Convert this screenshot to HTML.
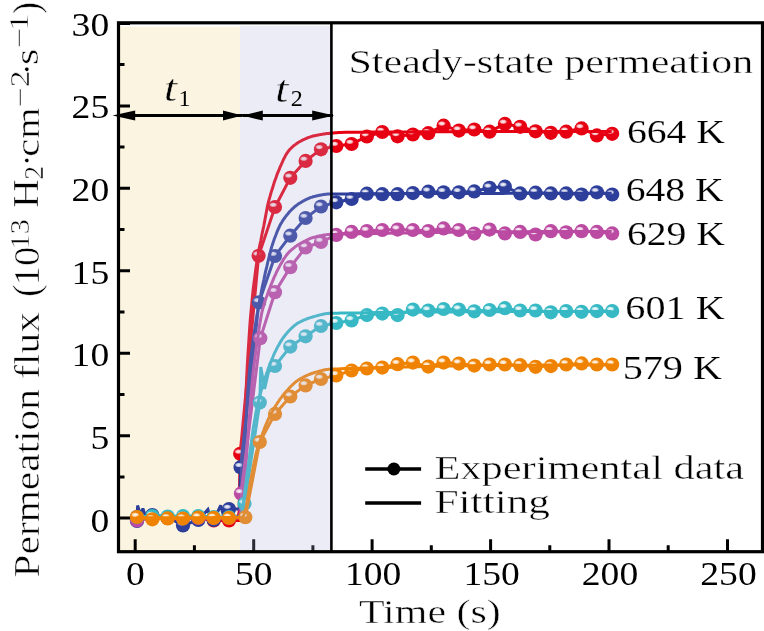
<!DOCTYPE html><html><head><meta charset="utf-8"><title>Permeation flux</title><style>html,body{margin:0;padding:0;background:#fff;width:764px;height:631px;overflow:hidden}svg{display:block;will-change:transform}text{font-family:"Liberation Serif",serif;fill:#000;stroke:#fff;stroke-width:0.45px}</style></head><body>
<svg width="764" height="631" viewBox="0 0 764 631">
<defs>
<radialGradient id="hl" cx="0.5" cy="0.5" r="0.5"><stop offset="0" stop-color="#fff" stop-opacity="0.95"/><stop offset="0.55" stop-color="#fff" stop-opacity="0.75"/><stop offset="1" stop-color="#fff" stop-opacity="0"/></radialGradient>
<g id="mkr"><circle r="7.1" fill="#e60012"/><ellipse cx="-1.8" cy="-2.2" rx="4.2" ry="2.6" fill="url(#hl)"/></g>
<g id="mkb"><circle r="7.1" fill="#2d3f9b"/><ellipse cx="-1.8" cy="-2.2" rx="4.2" ry="2.6" fill="url(#hl)"/></g>
<g id="mkm"><circle r="7.1" fill="#bb4aa2"/><ellipse cx="-1.8" cy="-2.2" rx="4.2" ry="2.6" fill="url(#hl)"/></g>
<g id="mkc"><circle r="7.1" fill="#36b9c4"/><ellipse cx="-1.8" cy="-2.2" rx="4.2" ry="2.6" fill="url(#hl)"/></g>
<g id="mko"><circle r="7.1" fill="#ef8200"/><ellipse cx="-1.8" cy="-2.2" rx="4.2" ry="2.6" fill="url(#hl)"/></g>
</defs>
<rect width="764" height="631" fill="#fff"/>
<rect x="118.5" y="26.6" width="121.5" height="525.1" fill="#fbf4e1"/>
<path d="M118.5,518.1h11.5 M118.5,435.7h11.5 M118.5,353.2h11.5 M118.5,270.8h11.5 M118.5,188.3h11.5 M118.5,105.9h11.5 M118.5,23.4h11.5 M118.5,476.9h6 M118.5,394.4h6 M118.5,312.0h6 M118.5,229.5h6 M118.5,147.1h6 M118.5,64.6h6 M135.2,551.7v-12.5 M253.7,551.7v-12.5 M372.1,551.7v-12.5 M490.6,551.7v-12.5 M609.0,551.7v-12.5 M727.5,551.7v-12.5 M194.4,551.7v-6.5 M312.9,551.7v-6.5 M431.3,551.7v-6.5 M549.8,551.7v-6.5 M668.2,551.7v-6.5" stroke="#000" stroke-width="3" fill="none"/>
<path d="M137.0,517.0 152.3,517.0 167.7,518.0 183.0,518.0 198.3,518.0 213.7,520.5 229.0,520.5 239.0,520.5 240.2,453.8 258.6,255.8 275.0,207.0 290.3,177.8 305.6,160.9 321.0,149.3 336.3,146.0 351.6,144.0 366.9,136.5 382.3,132.0 397.6,136.3 412.9,134.5 428.3,133.2 443.6,125.7 458.9,130.6 474.3,129.5 489.6,131.7 504.9,123.9 520.2,126.8 535.6,131.3 550.9,132.8 566.2,131.7 581.6,128.4 596.9,135.4 612.2,133.8" stroke="#e60012" stroke-width="3" fill="none" stroke-linejoin="miter" stroke-miterlimit="2.2"/>
<use href="#mkr" x="137.0" y="517.0"/><use href="#mkr" x="152.3" y="517.0"/><use href="#mkr" x="167.7" y="518.0"/><use href="#mkr" x="183.0" y="518.0"/><use href="#mkr" x="198.3" y="518.0"/><use href="#mkr" x="213.7" y="520.5"/><use href="#mkr" x="229.0" y="520.5"/><use href="#mkr" x="240.2" y="453.8"/><use href="#mkr" x="258.6" y="255.8"/><use href="#mkr" x="275.0" y="207.0"/><use href="#mkr" x="290.3" y="177.8"/><use href="#mkr" x="305.6" y="160.9"/><use href="#mkr" x="321.0" y="149.3"/><use href="#mkr" x="336.3" y="146.0"/><use href="#mkr" x="351.6" y="144.0"/><use href="#mkr" x="366.9" y="136.5"/><use href="#mkr" x="382.3" y="132.0"/><use href="#mkr" x="397.6" y="136.3"/><use href="#mkr" x="412.9" y="134.5"/><use href="#mkr" x="428.3" y="133.2"/><use href="#mkr" x="443.6" y="125.7"/><use href="#mkr" x="458.9" y="130.6"/><use href="#mkr" x="474.3" y="129.5"/><use href="#mkr" x="489.6" y="131.7"/><use href="#mkr" x="504.9" y="123.9"/><use href="#mkr" x="520.2" y="126.8"/><use href="#mkr" x="535.6" y="131.3"/><use href="#mkr" x="550.9" y="132.8"/><use href="#mkr" x="566.2" y="131.7"/><use href="#mkr" x="581.6" y="128.4"/><use href="#mkr" x="596.9" y="135.4"/><use href="#mkr" x="612.2" y="133.8"/>
<path d="M136.5,517.8 142.5,517.8 148.5,517.8 154.5,517.8 160.5,517.8 166.5,517.8 172.5,517.8 178.5,517.8 184.5,517.8 190.5,517.7 196.5,517.7 202.5,517.7 208.5,517.6 214.5,517.6 220.5,517.6 226.5,517.5 232.5,517.4 236.0,517.4 236.8,517.2 237.5,516.5 238.2,515.4 239.0,514.0 239.8,510.6 240.5,504.7 241.2,497.4 242.0,487.3 242.8,474.6 243.5,459.2 244.2,439.1 245.0,417.5 245.8,397.6 246.5,381.7 247.2,367.1 248.0,353.7 248.8,341.6 249.5,330.6 250.2,320.7 251.0,311.6 251.8,303.4 252.5,296.0 253.2,289.2 254.0,282.9 254.8,276.9 255.5,271.3 256.2,266.1 257.0,261.1 257.8,256.5 258.5,252.2 259.2,248.2 260.0,244.4 260.8,240.7 261.5,237.0 262.2,233.2 263.0,229.5 263.8,225.8 264.5,222.1 265.2,218.2 266.0,214.0 266.8,209.8 267.5,206.0 268.2,202.8 269.0,199.9 269.8,197.2 270.5,194.6 271.2,192.1 272.0,189.7 272.8,187.3 273.5,184.9 274.2,182.6 275.0,180.3 275.8,178.2 276.5,176.1 277.2,174.1 278.0,172.2 278.8,170.3 279.5,168.6 280.2,166.8 281.0,165.1 281.8,163.4 282.5,161.7 283.2,160.1 284.0,158.5 284.8,157.0 285.5,155.6 286.2,154.3 287.0,153.1 287.8,152.0 288.5,151.0 289.2,150.1 290.0,149.3 290.8,148.5 291.5,147.8 292.2,147.1 293.0,146.4 293.8,145.8 294.5,145.1 295.2,144.6 296.0,144.0 296.8,143.5 297.5,143.0 298.2,142.5 299.0,142.0 299.8,141.6 300.5,141.2 301.2,140.8 302.0,140.4 302.8,140.0 303.5,139.7 304.2,139.3 305.0,139.0 305.8,138.6 306.5,138.3 307.2,138.0 308.0,137.7 308.8,137.4 309.5,137.2 310.2,136.9 311.0,136.7 311.8,136.4 312.5,136.2 313.2,136.0 314.0,135.8 314.8,135.7 315.5,135.5 316.2,135.4 317.0,135.2 317.8,135.1 318.5,134.9 319.2,134.8 320.0,134.6 320.8,134.5 321.5,134.4 322.2,134.3 323.0,134.1 323.8,134.0 324.5,133.9 325.2,133.8 326.0,133.7 326.8,133.6 327.5,133.6 328.2,133.5 329.0,133.4 329.8,133.3 330.5,133.3 331.2,133.2 332.0,133.1 332.8,133.0 333.5,133.0 334.2,132.9 335.0,132.8 335.8,132.8 336.5,132.7 337.2,132.7 338.0,132.6 338.8,132.6 339.5,132.5 340.0,132.5 346.0,132.3 352.0,132.2 358.0,132.2 364.0,132.2 370.0,132.1 376.0,132.1 382.0,132.0 388.0,132.0 394.0,132.0 400.0,131.9 406.0,131.9 412.0,131.9 418.0,131.8 424.0,131.8 430.0,131.8 436.0,131.8 442.0,131.7 448.0,131.7 454.0,131.7 460.0,131.7 466.0,131.7 472.0,131.7 478.0,131.6 484.0,131.6 490.0,131.6 496.0,131.6 502.0,131.6 508.0,131.6 514.0,131.6 520.0,131.6 526.0,131.5 532.0,131.5 538.0,131.5 544.0,131.5 550.0,131.5 556.0,131.5 562.0,131.5 568.0,131.5 574.0,131.5 580.0,131.5 586.0,131.5 592.0,131.5 598.0,131.5 604.0,131.5 610.0,131.5 611.7,131.5" stroke="#e60012" stroke-width="3" fill="none" stroke-linejoin="round"/>
<path d="M137.0,521.0 137.6,505.5 140.3,514.5 142.9,508.5 145.5,516.5 152.3,515.0 167.7,517.0 183.0,525.5 198.3,520.0 207.9,509.5 210.5,517.5 213.7,520.0 220.7,505.5 223.5,515.5 229.0,509.0 239.4,509.0 240.6,467.2 259.0,302.4 275.0,256.0 290.3,235.7 305.6,218.0 321.0,206.5 336.3,202.3 351.6,199.0 366.9,193.7 382.3,194.2 397.6,194.2 412.9,193.1 428.3,191.7 443.6,192.3 458.9,192.3 474.3,191.4 489.6,187.8 504.9,186.7 520.2,193.4 535.6,192.7 550.9,193.4 566.2,193.4 581.6,194.5 596.9,192.3 612.2,194.5" stroke="#2d3f9b" stroke-width="3" fill="none" stroke-linejoin="miter" stroke-miterlimit="2.2"/>
<use href="#mkb" x="137.0" y="521.0"/><use href="#mkb" x="152.3" y="515.0"/><use href="#mkb" x="167.7" y="517.0"/><use href="#mkb" x="183.0" y="525.5"/><use href="#mkb" x="198.3" y="520.0"/><use href="#mkb" x="213.7" y="520.0"/><use href="#mkb" x="229.0" y="509.0"/><use href="#mkb" x="240.6" y="467.2"/><use href="#mkb" x="259.0" y="302.4"/><use href="#mkb" x="275.0" y="256.0"/><use href="#mkb" x="290.3" y="235.7"/><use href="#mkb" x="305.6" y="218.0"/><use href="#mkb" x="321.0" y="206.5"/><use href="#mkb" x="336.3" y="202.3"/><use href="#mkb" x="351.6" y="199.0"/><use href="#mkb" x="366.9" y="193.7"/><use href="#mkb" x="382.3" y="194.2"/><use href="#mkb" x="397.6" y="194.2"/><use href="#mkb" x="412.9" y="193.1"/><use href="#mkb" x="428.3" y="191.7"/><use href="#mkb" x="443.6" y="192.3"/><use href="#mkb" x="458.9" y="192.3"/><use href="#mkb" x="474.3" y="191.4"/><use href="#mkb" x="489.6" y="187.8"/><use href="#mkb" x="504.9" y="186.7"/><use href="#mkb" x="520.2" y="193.4"/><use href="#mkb" x="535.6" y="192.7"/><use href="#mkb" x="550.9" y="193.4"/><use href="#mkb" x="566.2" y="193.4"/><use href="#mkb" x="581.6" y="194.5"/><use href="#mkb" x="596.9" y="192.3"/><use href="#mkb" x="612.2" y="194.5"/>
<path d="M136.5,517.8 142.5,517.8 148.5,517.8 154.5,517.8 160.5,517.8 166.5,517.8 172.5,517.8 178.5,517.8 184.5,517.8 190.5,517.7 196.5,517.7 202.5,517.7 208.5,517.6 214.5,517.6 220.5,517.6 226.5,517.5 232.5,517.4 236.0,517.4 236.8,517.4 237.5,517.3 238.2,516.7 239.0,515.8 239.8,514.5 240.5,512.2 241.2,507.0 242.0,500.0 242.8,489.5 243.5,475.4 244.2,461.1 245.0,446.7 245.8,431.3 246.5,415.8 247.2,401.3 248.0,388.7 248.8,379.1 249.5,370.8 250.2,363.4 251.0,356.7 251.8,350.5 252.5,344.7 253.2,339.3 254.0,334.1 254.8,329.0 255.5,324.1 256.2,319.4 257.0,314.9 257.8,310.6 258.5,306.5 259.2,302.5 260.0,298.6 260.8,294.8 261.5,291.0 262.2,287.3 263.0,283.6 263.8,280.1 264.5,276.6 265.2,273.2 266.0,269.9 266.8,266.7 267.5,263.6 268.2,260.5 269.0,257.4 269.8,254.3 270.5,251.4 271.2,248.6 272.0,245.9 272.8,243.5 273.5,241.4 274.2,239.2 275.0,237.2 275.8,235.2 276.5,233.3 277.2,231.4 278.0,229.6 278.8,228.0 279.5,226.4 280.2,224.9 281.0,223.5 281.8,222.2 282.5,221.0 283.2,219.9 284.0,218.8 284.8,217.8 285.5,216.7 286.2,215.8 287.0,214.8 287.8,213.9 288.5,213.0 289.2,212.1 290.0,211.3 290.8,210.5 291.5,209.7 292.2,209.0 293.0,208.3 293.8,207.6 294.5,206.9 295.2,206.3 296.0,205.7 296.8,205.2 297.5,204.6 298.2,204.1 299.0,203.6 299.8,203.1 300.5,202.7 301.2,202.2 302.0,201.7 302.8,201.3 303.5,200.9 304.2,200.5 305.0,200.1 305.8,199.7 306.5,199.3 307.2,199.0 308.0,198.6 308.8,198.3 309.5,198.0 310.2,197.7 311.0,197.4 311.8,197.2 312.5,197.0 313.2,196.7 314.0,196.5 314.8,196.4 315.5,196.2 316.2,196.0 317.0,195.8 317.8,195.7 318.5,195.5 319.2,195.3 320.0,195.2 320.8,195.0 321.5,194.9 322.2,194.8 323.0,194.6 323.8,194.5 324.5,194.4 325.2,194.3 326.0,194.2 326.8,194.2 327.5,194.1 328.2,194.1 329.0,194.0 329.8,194.0 330.5,194.0 331.2,194.0 332.0,194.0 332.8,194.0 333.5,194.0 334.2,194.0 335.0,194.0 335.8,194.0 336.5,194.0 337.2,194.0 338.0,193.9 338.8,193.9 339.5,193.9 340.0,193.9 346.0,193.9 352.0,193.9 358.0,193.8 364.0,193.8 370.0,193.8 376.0,193.7 382.0,193.7 388.0,193.7 394.0,193.6 400.0,193.6 406.0,193.6 412.0,193.6 418.0,193.6 424.0,193.5 430.0,193.5 436.0,193.5 442.0,193.5 448.0,193.5 454.0,193.4 460.0,193.4 466.0,193.4 472.0,193.4 478.0,193.4 484.0,193.4 490.0,193.4 496.0,193.4 502.0,193.4 508.0,193.3 514.0,193.3 520.0,193.3 526.0,193.3 532.0,193.3 538.0,193.3 544.0,193.3 550.0,193.3 556.0,193.3 562.0,193.3 568.0,193.3 574.0,193.3 580.0,193.3 586.0,193.3 592.0,193.3 598.0,193.3 604.0,193.3 610.0,193.3 611.7,193.3" stroke="#2d3f9b" stroke-width="3" fill="none" stroke-linejoin="round"/>
<path d="M137.0,520.5 152.3,518.0 167.7,518.0 183.0,518.0 198.3,518.0 213.7,518.0 229.0,518.0 239.8,518.0 241.0,493.4 260.3,338.2 275.0,292.2 290.3,267.2 305.6,247.5 321.0,242.0 336.3,234.9 351.6,231.9 366.9,231.0 382.3,230.0 397.6,229.6 412.9,230.0 428.3,231.0 443.6,228.4 458.9,230.0 474.3,233.6 489.6,229.6 504.9,233.4 520.2,231.9 535.6,234.5 550.9,231.2 566.2,232.3 581.6,231.2 596.9,231.9 612.2,233.4" stroke="#bb4aa2" stroke-width="3" fill="none" stroke-linejoin="miter" stroke-miterlimit="2.2"/>
<use href="#mkm" x="137.0" y="520.5"/><use href="#mkm" x="152.3" y="518.0"/><use href="#mkm" x="167.7" y="518.0"/><use href="#mkm" x="183.0" y="518.0"/><use href="#mkm" x="198.3" y="518.0"/><use href="#mkm" x="213.7" y="518.0"/><use href="#mkm" x="229.0" y="518.0"/><use href="#mkm" x="241.0" y="493.4"/><use href="#mkm" x="260.3" y="338.2"/><use href="#mkm" x="275.0" y="292.2"/><use href="#mkm" x="290.3" y="267.2"/><use href="#mkm" x="305.6" y="247.5"/><use href="#mkm" x="321.0" y="242.0"/><use href="#mkm" x="336.3" y="234.9"/><use href="#mkm" x="351.6" y="231.9"/><use href="#mkm" x="366.9" y="231.0"/><use href="#mkm" x="382.3" y="230.0"/><use href="#mkm" x="397.6" y="229.6"/><use href="#mkm" x="412.9" y="230.0"/><use href="#mkm" x="428.3" y="231.0"/><use href="#mkm" x="443.6" y="228.4"/><use href="#mkm" x="458.9" y="230.0"/><use href="#mkm" x="474.3" y="233.6"/><use href="#mkm" x="489.6" y="229.6"/><use href="#mkm" x="504.9" y="233.4"/><use href="#mkm" x="520.2" y="231.9"/><use href="#mkm" x="535.6" y="234.5"/><use href="#mkm" x="550.9" y="231.2"/><use href="#mkm" x="566.2" y="232.3"/><use href="#mkm" x="581.6" y="231.2"/><use href="#mkm" x="596.9" y="231.9"/><use href="#mkm" x="612.2" y="233.4"/>
<path d="M136.5,517.8 142.5,517.8 148.5,517.8 154.5,517.8 160.5,517.8 166.5,517.8 172.5,517.8 178.5,517.8 184.5,517.8 190.5,517.7 196.5,517.7 202.5,517.7 208.5,517.7 214.5,517.6 220.5,517.6 226.5,517.5 232.5,517.5 236.0,517.4 236.8,517.4 237.5,517.4 238.2,517.4 239.0,517.0 239.8,516.1 240.5,515.0 241.2,513.3 242.0,508.8 242.8,502.2 243.5,495.0 244.2,486.9 245.0,477.3 245.8,467.2 246.5,457.4 247.2,447.4 248.0,436.9 248.8,426.2 249.5,415.6 250.2,405.4 251.0,395.7 251.8,386.8 252.5,379.0 253.2,372.0 254.0,365.5 254.8,359.4 255.5,353.6 256.2,348.1 257.0,342.8 257.8,337.7 258.5,332.6 259.2,327.6 260.0,322.7 260.8,318.3 261.5,314.3 262.2,311.0 263.0,308.0 263.8,305.3 264.5,302.8 265.2,300.5 266.0,298.3 266.8,296.2 267.5,294.2 268.2,292.1 269.0,290.1 269.8,288.2 270.5,286.2 271.2,284.3 272.0,282.5 272.8,280.6 273.5,278.9 274.2,277.1 275.0,275.5 275.8,273.8 276.5,272.2 277.2,270.7 278.0,269.2 278.8,267.8 279.5,266.4 280.2,265.1 281.0,263.7 281.8,262.4 282.5,261.2 283.2,259.9 284.0,258.7 284.8,257.6 285.5,256.5 286.2,255.5 287.0,254.5 287.8,253.6 288.5,252.7 289.2,251.9 290.0,251.2 290.8,250.5 291.5,249.8 292.2,249.2 293.0,248.6 293.8,248.0 294.5,247.4 295.2,246.8 296.0,246.3 296.8,245.8 297.5,245.3 298.2,244.8 299.0,244.3 299.8,243.9 300.5,243.4 301.2,243.0 302.0,242.6 302.8,242.2 303.5,241.8 304.2,241.4 305.0,241.0 305.8,240.6 306.5,240.2 307.2,239.8 308.0,239.5 308.8,239.1 309.5,238.8 310.2,238.5 311.0,238.2 311.8,237.9 312.5,237.7 313.2,237.5 314.0,237.3 314.8,237.1 315.5,236.9 316.2,236.7 317.0,236.5 317.8,236.3 318.5,236.2 319.2,236.0 320.0,235.8 320.8,235.7 321.5,235.5 322.2,235.4 323.0,235.2 323.8,235.1 324.5,235.0 325.2,234.9 326.0,234.8 326.8,234.7 327.5,234.6 328.2,234.6 329.0,234.5 329.8,234.5 330.5,234.5 331.2,234.5 332.0,234.4 332.8,234.4 333.5,234.4 334.2,234.4 335.0,234.4 335.8,234.3 336.5,234.3 337.2,234.3 338.0,234.3 338.8,234.3 339.5,234.2 340.0,234.2 346.0,234.1 352.0,233.9 358.0,233.8 364.0,233.7 370.0,233.5 376.0,233.4 382.0,233.3 388.0,233.2 394.0,233.1 400.0,233.0 406.0,232.9 412.0,232.8 418.0,232.7 424.0,232.6 430.0,232.5 436.0,232.4 442.0,232.3 448.0,232.3 454.0,232.2 460.0,232.1 466.0,232.1 472.0,232.0 478.0,232.0 484.0,231.9 490.0,231.9 496.0,231.8 502.0,231.8 508.0,231.8 514.0,231.7 520.0,231.7 526.0,231.7 532.0,231.6 538.0,231.6 544.0,231.6 550.0,231.6 556.0,231.6 562.0,231.6 568.0,231.5 574.0,231.5 580.0,231.5 586.0,231.5 592.0,231.5 598.0,231.5 604.0,231.5 610.0,231.5 611.7,231.5" stroke="#bb4aa2" stroke-width="3" fill="none" stroke-linejoin="round"/>
<path d="M137.0,517.0 152.3,516.0 167.7,516.5 183.0,516.0 198.3,516.0 213.7,517.0 229.0,517.0 243.3,517.0 244.5,503.8 259.8,402.6 260.8,367.0 264.6,389.0 268.5,372.0 275.0,366.0 290.3,346.6 305.6,336.3 321.0,326.0 336.3,323.0 351.6,320.4 366.9,315.1 382.3,313.6 397.6,315.1 412.9,309.6 428.3,310.6 443.6,309.0 458.9,309.6 474.3,311.3 489.6,310.0 504.9,308.2 520.2,310.5 535.6,310.5 550.9,312.3 566.2,311.1 581.6,311.8 596.9,311.1 612.2,311.1" stroke="#36b9c4" stroke-width="3" fill="none" stroke-linejoin="miter" stroke-miterlimit="2.2"/>
<use href="#mkc" x="137.0" y="517.0"/><use href="#mkc" x="152.3" y="516.0"/><use href="#mkc" x="167.7" y="516.5"/><use href="#mkc" x="183.0" y="516.0"/><use href="#mkc" x="198.3" y="516.0"/><use href="#mkc" x="213.7" y="517.0"/><use href="#mkc" x="229.0" y="517.0"/><use href="#mkc" x="244.5" y="503.8"/><use href="#mkc" x="259.8" y="402.6"/><use href="#mkc" x="275.0" y="366.0"/><use href="#mkc" x="290.3" y="346.6"/><use href="#mkc" x="305.6" y="336.3"/><use href="#mkc" x="321.0" y="326.0"/><use href="#mkc" x="336.3" y="323.0"/><use href="#mkc" x="351.6" y="320.4"/><use href="#mkc" x="366.9" y="315.1"/><use href="#mkc" x="382.3" y="313.6"/><use href="#mkc" x="397.6" y="315.1"/><use href="#mkc" x="412.9" y="309.6"/><use href="#mkc" x="428.3" y="310.6"/><use href="#mkc" x="443.6" y="309.0"/><use href="#mkc" x="458.9" y="309.6"/><use href="#mkc" x="474.3" y="311.3"/><use href="#mkc" x="489.6" y="310.0"/><use href="#mkc" x="504.9" y="308.2"/><use href="#mkc" x="520.2" y="310.5"/><use href="#mkc" x="535.6" y="310.5"/><use href="#mkc" x="550.9" y="312.3"/><use href="#mkc" x="566.2" y="311.1"/><use href="#mkc" x="581.6" y="311.8"/><use href="#mkc" x="596.9" y="311.1"/><use href="#mkc" x="612.2" y="311.1"/>
<path d="M136.5,517.8 142.5,517.8 148.5,517.8 154.5,517.8 160.5,517.8 166.5,517.8 172.5,517.8 178.5,517.8 184.5,517.8 190.5,517.7 196.5,517.7 202.5,517.7 208.5,517.7 214.5,517.6 220.5,517.6 226.5,517.5 232.5,517.5 236.0,517.4 236.8,517.4 237.5,517.4 238.2,517.4 239.0,517.4 239.8,517.0 240.5,515.8 241.2,514.1 242.0,512.0 242.8,508.4 243.5,502.7 244.2,496.1 245.0,490.0 245.8,484.5 246.5,478.9 247.2,473.3 248.0,467.7 248.8,462.1 249.5,456.5 250.2,450.6 251.0,444.7 251.8,438.9 252.5,433.4 253.2,428.4 254.0,423.7 254.8,419.2 255.5,415.0 256.2,411.0 257.0,407.3 257.8,403.9 258.5,400.7 259.2,397.8 260.0,394.9 260.8,392.2 261.5,389.6 262.2,387.1 263.0,384.6 263.8,382.2 264.5,379.9 265.2,377.5 266.0,375.3 266.8,373.1 267.5,370.9 268.2,368.9 269.0,366.8 269.8,364.9 270.5,363.0 271.2,361.0 272.0,359.2 272.8,357.3 273.5,355.5 274.2,353.8 275.0,352.1 275.8,350.6 276.5,349.1 277.2,347.7 278.0,346.3 278.8,345.0 279.5,343.6 280.2,342.4 281.0,341.1 281.8,339.9 282.5,338.8 283.2,337.7 284.0,336.7 284.8,335.7 285.5,334.7 286.2,333.9 287.0,333.0 287.8,332.1 288.5,331.3 289.2,330.5 290.0,329.7 290.8,328.9 291.5,328.2 292.2,327.5 293.0,326.8 293.8,326.1 294.5,325.5 295.2,324.9 296.0,324.4 296.8,323.8 297.5,323.3 298.2,322.9 299.0,322.5 299.8,322.1 300.5,321.7 301.2,321.3 302.0,320.9 302.8,320.6 303.5,320.2 304.2,319.9 305.0,319.6 305.8,319.3 306.5,319.0 307.2,318.7 308.0,318.4 308.8,318.2 309.5,317.9 310.2,317.7 311.0,317.4 311.8,317.2 312.5,317.0 313.2,316.8 314.0,316.6 314.8,316.4 315.5,316.1 316.2,315.9 317.0,315.7 317.8,315.5 318.5,315.3 319.2,315.1 320.0,314.9 320.8,314.7 321.5,314.5 322.2,314.4 323.0,314.2 323.8,314.0 324.5,313.9 325.2,313.8 326.0,313.6 326.8,313.5 327.5,313.5 328.2,313.4 329.0,313.3 329.8,313.3 330.5,313.3 331.2,313.3 332.0,313.3 332.8,313.3 333.5,313.2 334.2,313.2 335.0,313.2 335.8,313.2 336.5,313.2 337.2,313.2 338.0,313.2 338.8,313.2 339.5,313.1 340.0,313.1 346.0,313.0 352.0,312.9 358.0,312.9 364.0,312.8 370.0,312.7 376.0,312.6 382.0,312.5 388.0,312.5 394.0,312.4 400.0,312.3 406.0,312.3 412.0,312.2 418.0,312.2 424.0,312.1 430.0,312.1 436.0,312.0 442.0,312.0 448.0,311.9 454.0,311.9 460.0,311.9 466.0,311.8 472.0,311.8 478.0,311.8 484.0,311.7 490.0,311.7 496.0,311.7 502.0,311.7 508.0,311.6 514.0,311.6 520.0,311.6 526.0,311.6 532.0,311.6 538.0,311.6 544.0,311.5 550.0,311.5 556.0,311.5 562.0,311.5 568.0,311.5 574.0,311.5 580.0,311.5 586.0,311.5 592.0,311.5 598.0,311.5 604.0,311.5 610.0,311.5 611.7,311.5" stroke="#36b9c4" stroke-width="3" fill="none" stroke-linejoin="round"/>
<path d="M137.0,517.0 152.3,519.3 167.7,518.4 183.0,518.6 198.3,517.6 213.7,517.9 229.0,517.9 244.1,517.5 245.3,517.2 259.8,442.0 275.0,413.9 290.3,396.5 305.6,385.4 321.0,379.0 336.3,375.4 351.6,370.5 366.9,368.5 382.3,367.6 397.6,364.2 412.9,362.6 428.3,366.6 443.6,362.6 458.9,363.6 474.3,365.6 489.6,364.5 504.9,364.5 520.2,365.2 535.6,366.8 550.9,366.1 566.2,364.5 581.6,363.4 596.9,364.5 612.2,364.5" stroke="#ef8200" stroke-width="3" fill="none" stroke-linejoin="miter" stroke-miterlimit="2.2"/>
<use href="#mko" x="137.0" y="517.0"/><use href="#mko" x="152.3" y="519.3"/><use href="#mko" x="167.7" y="518.4"/><use href="#mko" x="183.0" y="518.6"/><use href="#mko" x="198.3" y="517.6"/><use href="#mko" x="213.7" y="517.9"/><use href="#mko" x="229.0" y="517.9"/><use href="#mko" x="245.3" y="517.2"/><use href="#mko" x="259.8" y="442.0"/><use href="#mko" x="275.0" y="413.9"/><use href="#mko" x="290.3" y="396.5"/><use href="#mko" x="305.6" y="385.4"/><use href="#mko" x="321.0" y="379.0"/><use href="#mko" x="336.3" y="375.4"/><use href="#mko" x="351.6" y="370.5"/><use href="#mko" x="366.9" y="368.5"/><use href="#mko" x="382.3" y="367.6"/><use href="#mko" x="397.6" y="364.2"/><use href="#mko" x="412.9" y="362.6"/><use href="#mko" x="428.3" y="366.6"/><use href="#mko" x="443.6" y="362.6"/><use href="#mko" x="458.9" y="363.6"/><use href="#mko" x="474.3" y="365.6"/><use href="#mko" x="489.6" y="364.5"/><use href="#mko" x="504.9" y="364.5"/><use href="#mko" x="520.2" y="365.2"/><use href="#mko" x="535.6" y="366.8"/><use href="#mko" x="550.9" y="366.1"/><use href="#mko" x="566.2" y="364.5"/><use href="#mko" x="581.6" y="363.4"/><use href="#mko" x="596.9" y="364.5"/><use href="#mko" x="612.2" y="364.5"/>
<path d="M136.5,517.8 142.5,517.8 148.5,517.8 154.5,517.8 160.5,517.8 166.5,517.8 172.5,517.8 178.5,517.8 184.5,517.8 190.5,517.7 196.5,517.7 202.5,517.7 208.5,517.7 214.5,517.6 220.5,517.6 226.5,517.5 232.5,517.5 236.0,517.5 236.8,517.5 237.5,517.4 238.2,517.4 239.0,517.4 239.8,517.4 240.5,517.4 241.2,517.4 242.0,517.4 242.8,516.9 243.5,515.7 244.2,514.0 245.0,512.0 245.8,509.3 246.5,505.4 247.2,500.9 248.0,496.0 248.8,491.4 249.5,487.2 250.2,483.0 251.0,478.7 251.8,474.6 252.5,470.6 253.2,466.8 254.0,463.0 254.8,459.4 255.5,456.1 256.2,453.0 257.0,450.2 257.8,447.7 258.5,445.4 259.2,443.2 260.0,441.0 260.8,438.8 261.5,436.6 262.2,434.5 263.0,432.4 263.8,430.3 264.5,428.3 265.2,426.4 266.0,424.5 266.8,422.7 267.5,421.0 268.2,419.4 269.0,417.8 269.8,416.3 270.5,414.9 271.2,413.4 272.0,412.1 272.8,410.7 273.5,409.4 274.2,408.2 275.0,406.9 275.8,405.7 276.5,404.5 277.2,403.4 278.0,402.2 278.8,401.1 279.5,400.0 280.2,398.9 281.0,397.9 281.8,396.9 282.5,395.9 283.2,394.9 284.0,394.0 284.8,393.1 285.5,392.2 286.2,391.4 287.0,390.5 287.8,389.7 288.5,388.9 289.2,388.1 290.0,387.3 290.8,386.5 291.5,385.8 292.2,385.0 293.0,384.3 293.8,383.6 294.5,382.9 295.2,382.3 296.0,381.7 296.8,381.1 297.5,380.6 298.2,380.1 299.0,379.6 299.8,379.2 300.5,378.7 301.2,378.3 302.0,377.9 302.8,377.5 303.5,377.1 304.2,376.7 305.0,376.3 305.8,376.0 306.5,375.6 307.2,375.3 308.0,374.9 308.8,374.6 309.5,374.3 310.2,374.0 311.0,373.8 311.8,373.5 312.5,373.2 313.2,373.0 314.0,372.8 314.8,372.5 315.5,372.3 316.2,372.1 317.0,371.9 317.8,371.6 318.5,371.4 319.2,371.2 320.0,371.0 320.8,370.8 321.5,370.6 322.2,370.4 323.0,370.2 323.8,370.0 324.5,369.9 325.2,369.7 326.0,369.6 326.8,369.5 327.5,369.4 328.2,369.3 329.0,369.3 329.8,369.2 330.5,369.2 331.2,369.2 332.0,369.1 332.8,369.1 333.5,369.1 334.2,369.0 335.0,369.0 335.8,369.0 336.5,369.0 337.2,368.9 338.0,368.9 338.8,368.9 339.5,368.9 340.0,368.8 346.0,368.6 352.0,368.4 358.0,368.2 364.0,368.0 370.0,367.9 376.0,367.7 382.0,367.5 388.0,367.4 394.0,367.2 400.0,367.1 406.0,366.9 412.0,366.8 418.0,366.7 424.0,366.5 430.0,366.4 436.0,366.3 442.0,366.2 448.0,366.1 454.0,366.0 460.0,365.9 466.0,365.8 472.0,365.8 478.0,365.7 484.0,365.6 490.0,365.5 496.0,365.5 502.0,365.4 508.0,365.4 514.0,365.3 520.0,365.3 526.0,365.2 532.0,365.2 538.0,365.2 544.0,365.1 550.0,365.1 556.0,365.1 562.0,365.1 568.0,365.1 574.0,365.0 580.0,365.0 586.0,365.0 592.0,365.0 598.0,365.0 604.0,365.0 610.0,365.0 611.7,365.0" stroke="#ef8200" stroke-width="3" fill="none" stroke-linejoin="round"/>
<rect x="240.0" y="25.8" width="91.39999999999998" height="525.9000000000001" fill="rgb(176,176,222)" fill-opacity="0.24"/>
<path d="M331.4,22.8V551.7" stroke="#000" stroke-width="2.6"/>
<rect x="118.5" y="22.8" width="644.0" height="528.9000000000001" fill="none" stroke="#000" stroke-width="3.2"/>
<path d="M118,115.6H242.4M242.4,115.6H333" stroke="#000" stroke-width="3"/>
<path d="M112.5,115.6L135.2,110.6L135.2,120.6Z M242.4,115.6L223,110.6L223,120.6Z M242.4,115.6L262.8,110.6L262.8,120.6Z M334.2,115.6L312.2,110.6L312.2,120.6Z" fill="#000"/>
<text transform="translate(109.20,36.30) scale(1.0900,1)" font-size="34.5" text-anchor="end" style="stroke:none">30</text>
<text transform="translate(109.20,118.40) scale(1.0900,1)" font-size="34.5" text-anchor="end" style="stroke:none">25</text>
<text transform="translate(109.20,201.00) scale(1.0900,1)" font-size="34.5" text-anchor="end" style="stroke:none">20</text>
<text transform="translate(109.20,283.70) scale(1.0900,1)" font-size="34.5" text-anchor="end" style="stroke:none">15</text>
<text transform="translate(109.20,366.40) scale(1.0900,1)" font-size="34.5" text-anchor="end" style="stroke:none">10</text>
<text transform="translate(109.20,449.10) scale(1.0900,1)" font-size="34.5" text-anchor="end" style="stroke:none">5</text>
<text transform="translate(109.20,531.80) scale(1.0900,1)" font-size="34.5" text-anchor="end" style="stroke:none">0</text>
<text transform="translate(135.40,585.20) scale(1.0900,1)" font-size="34.5" text-anchor="middle" style="stroke:none">0</text>
<text transform="translate(253.80,585.20) scale(1.0900,1)" font-size="34.5" text-anchor="middle" style="stroke:none">50</text>
<text transform="translate(373.10,585.20) scale(1.0900,1)" font-size="34.5" text-anchor="middle" style="stroke:none">100</text>
<text transform="translate(491.60,585.20) scale(1.0900,1)" font-size="34.5" text-anchor="middle" style="stroke:none">150</text>
<text transform="translate(610.00,585.20) scale(1.0900,1)" font-size="34.5" text-anchor="middle" style="stroke:none">200</text>
<text transform="translate(728.50,585.20) scale(1.0900,1)" font-size="34.5" text-anchor="middle" style="stroke:none">250</text>
<text transform="translate(348.44,73.20) scale(1.2359,1)" font-size="34" >Steady-state permeation</text>
<text transform="translate(358.96,622.70) scale(1.2340,1)" font-size="34" >Time (s)</text>
<text transform="translate(626.88,143.30) scale(1.1498,1)" font-size="34.5" style="stroke-width:0.15px">664 K</text>
<text transform="translate(625.68,201.00) scale(1.1498,1)" font-size="34.5" style="stroke-width:0.15px">648 K</text>
<text transform="translate(626.88,245.30) scale(1.1498,1)" font-size="34.5" style="stroke-width:0.15px">629 K</text>
<text transform="translate(625.35,319.00) scale(1.1643,1)" font-size="34.5" style="stroke-width:0.15px">601 K</text>
<text transform="translate(622.63,378.50) scale(1.1669,1)" font-size="34.5" style="stroke-width:0.15px">579 K</text>
<text transform="translate(434.45,478.60) scale(1.2477,1)" font-size="34" >Experimental data</text>
<text transform="translate(434.45,513.00) scale(1.2751,1)" font-size="34" >Fitting</text>
<path d="M365.2,469H421.1M365.2,503H421.1" stroke="#000" stroke-width="3.4"/>
<circle cx="393.9" cy="469" r="6.5" fill="#000"/>
<text transform="translate(163.7,100.6) scale(1.3,1)" font-size="37" font-style="italic" style="stroke:#fbf4e1">t</text>
<text transform="translate(178.5,105.6) scale(1.0,1)" font-size="24" style="stroke:none">1</text>
<text transform="translate(274.9,101.6) scale(1.3,1)" font-size="37" font-style="italic" style="stroke:#ececf7">t</text>
<text transform="translate(290.7,106.4) scale(1.0,1)" font-size="24" style="stroke:none">2</text>
<text transform="translate(38.5,577.48) rotate(-90) scale(1.2545,1.09)" font-size="33">Permeation flux</text>
<text transform="translate(38.6,296.65) rotate(-90) scale(1.1,1.17)" font-size="33">(</text>
<text transform="translate(39.0,285.4) rotate(-90) scale(1.1714,1.1)" font-size="33">10</text>
<text transform="translate(29.1,249.34) rotate(-90) scale(1.2684,1.12)" font-size="24">13</text>
<text transform="translate(38.2,208.01) rotate(-90) scale(1.2095,1.07)" font-size="33">H</text>
<text transform="translate(43.3,179.75) rotate(-90) scale(1.1667,1.1)" font-size="24">2</text>
<text transform="translate(38.5,166.55) rotate(-90) scale(1.1,1.09)" font-size="33">·</text>
<text transform="translate(38.5,156.63) rotate(-90) scale(1.2184,1.05)" font-size="33">cm</text>
<text transform="translate(28.7,107.26) rotate(-90) scale(1.51,1.09)" font-size="24">−</text>
<text transform="translate(28.7,87.32) rotate(-90) scale(1.4111,1.12)" font-size="24">2</text>
<text transform="translate(38.5,75.35) rotate(-90) scale(1.1,1.09)" font-size="33">·</text>
<text transform="translate(38.3,64.9) rotate(-90) scale(1.27,1.05)" font-size="33">s</text>
<text transform="translate(27.9,47.85) rotate(-90) scale(1.5,1.09)" font-size="24">−</text>
<text transform="translate(27.9,30.88) rotate(-90) scale(1.45,1.12)" font-size="24">1</text>
<text transform="translate(38.6,13.95) rotate(-90) scale(1.1,1.17)" font-size="33">)</text>
</svg></body></html>
